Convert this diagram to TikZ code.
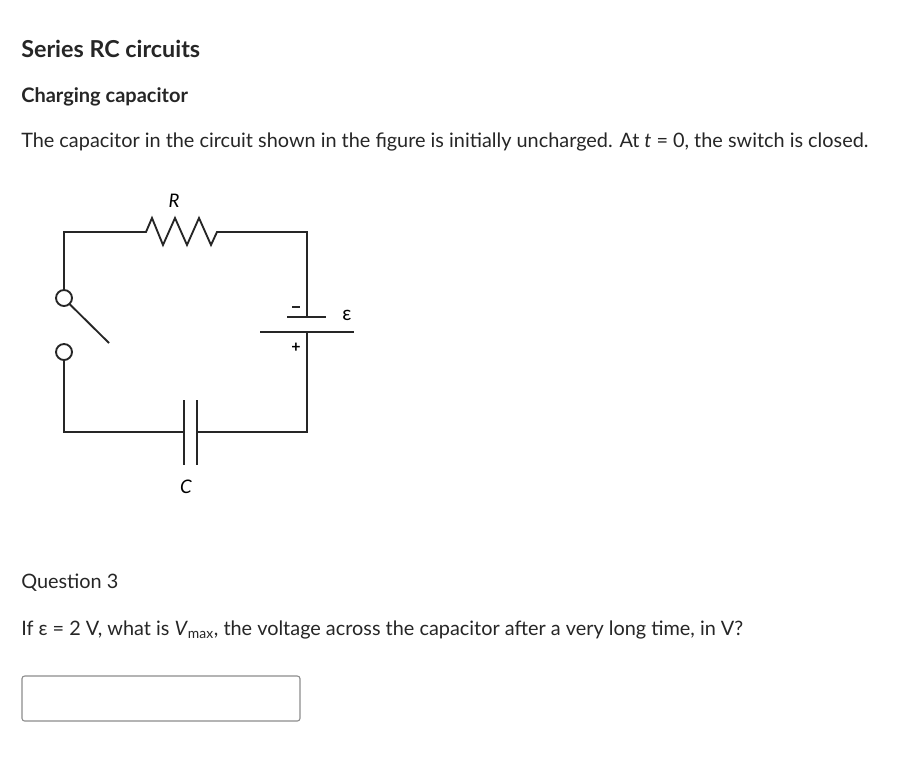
\documentclass[tikz,border=0pt]{standalone}
\usepackage{fontspec}
\setmainfont{Lato}
\begin{document}
\begin{tikzpicture}[x=0.75pt,y=-0.75pt,
  wire/.style={line width=1.4pt,black!85},
  txt/.style={anchor=west,inner sep=0pt,text=black!85},
  lbl/.style={inner sep=0pt,font=\fontsize{14}{16}\selectfont\itshape}]
\useasboundingbox[fill=white] (0,0) rectangle (920,757);
\node[txt,font=\fontsize{17.5}{20}\selectfont\bfseries] (t1) at (21,49) {Series RC circuits};
\node[txt,font=\fontsize{15}{18}\selectfont\bfseries] (t2) at (21,97) {Charging capacitor};
\node[txt,font=\fontsize{14.9}{18}\selectfont] (t3) at (21,142) {The capacitor in the circuit shown in the figure is initially uncharged. At \textit{t} = 0, the switch is closed.};
\node[txt,font=\fontsize{14.9}{18}\selectfont] (t4) at (21,583) {Question 3};
\node[txt,font=\fontsize{14.9}{18}\selectfont] (t5) at (21,630) {If ε = 2 V, what is \textit{V}\textsubscript{max}, the voltage across the capacitor after a very long time, in V?};
\node[draw=black!45,line width=0.8pt,rounded corners=2pt,minimum width=278*0.75pt,minimum height=45*0.75pt,inner sep=0pt] (box) at (161,698.5) {};
% circuit
\coordinate (sw1) at (64,298);
\coordinate (sw2) at (64,352);
\coordinate (lev) at (109,343);
\draw[wire] (64,290) -- (64,232) -- (146,232)
  -- (152,218) -- (163,245) -- (175,218) -- (187,245) -- (199,218) -- (211,245) -- (217,232)
  -- (307,232) -- (307,317);
\draw[wire] (287,317) -- (326,317);
\draw[wire] (260,332) -- (354,332);
\draw[wire] (307,332) -- (307,432) -- (197,432);
\draw[wire] (197,400) -- (197,465);
\draw[wire] (184,400) -- (184,465);
\draw[wire] (184,432) -- (64,432) -- (64,360);
\draw[wire] (sw1) circle[radius=8*0.75pt];
\draw[wire] (sw2) circle[radius=8*0.75pt];
\draw[wire] (69.5,304) -- (lev);
\node[lbl] (R) at (174,201) {R};
\node[lbl] (C) at (186,487) {C};
\node[lbl,font=\fontsize{15}{16}\selectfont] (E) at (347,315) {ε};
\draw[line width=1.3pt,black!85] (292,307) -- (300,307);
\node[inner sep=0pt,font=\fontsize{12}{14}\selectfont\bfseries] (p) at (296,348) {+};
\end{tikzpicture}
\end{document}
